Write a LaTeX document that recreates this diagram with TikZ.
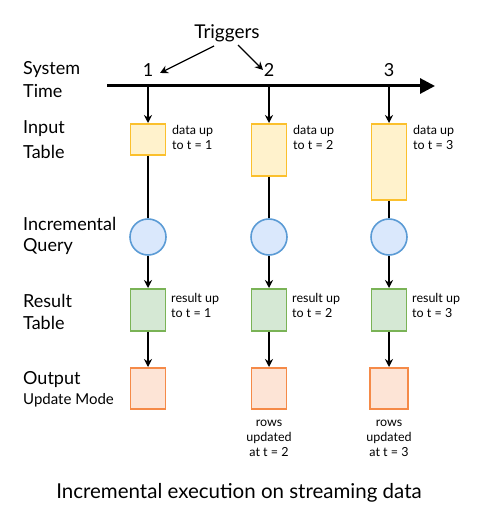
\documentclass[tikz,border=0pt]{standalone}
\usepackage{fontspec}
\setmainfont{Lato}
\usetikzlibrary{arrows.meta}
\definecolor{inF}{HTML}{FFF2CC}\definecolor{inD}{HTML}{FBC02D}
\definecolor{qF}{HTML}{DAE8FC}\definecolor{qD}{HTML}{5B9BD5}
\definecolor{rF}{HTML}{D5E8D4}\definecolor{rD}{HTML}{7AB356}
\definecolor{oF}{HTML}{FDE4D6}\definecolor{oD}{HTML}{F58A48}
\begin{document}
\begin{tikzpicture}[x=1pt,y=-1pt,
  big/.style={font=\fontsize{18}{21}\selectfont,anchor=west,inner sep=0pt},
  small/.style={font=\fontsize{12.5}{15}\selectfont,align=left,anchor=west,inner sep=0pt},
  inbox/.style={draw=inD,fill=inF,line width=1.6pt},
  qc/.style={draw=qD,fill=qF,line width=1.6pt,circle,minimum size=36pt,inner sep=0pt},
  resbox/.style={draw=rD,fill=rF,line width=1.6pt},
  outbox/.style={draw=oD,fill=oF,line width=1.6pt},
  conn/.style={line width=1.3pt},
  arr/.style={line width=1.3pt,-{Stealth[length=8pt,width=8pt]}}]
\useasboundingbox (0,0) rectangle (482,526);
% axis
\coordinate (a0) at (107,86);
\coordinate (a1) at (435,86);
\draw[line width=3pt,-{Triangle[length=15pt,width=15pt]}] (a0) -- (a1);
\node[font=\fontsize{19}{22}\selectfont] (trig) at (227,33) {Triggers};
\node[font=\fontsize{18}{21}\selectfont] (t1) at (148,70) {1};
\node[font=\fontsize{18}{21}\selectfont] (t2) at (269,70) {2};
\node[font=\fontsize{18}{21}\selectfont] (t3) at (389,70) {3};
\coordinate (tr1) at (214,46); \coordinate (tr2) at (238,45);
\coordinate (e1) at (160,73); \coordinate (e2) at (263,70);
\draw[arr] (tr1) -- (e1);
\draw[arr] (tr2) -- (e2);
% left labels
\node[big] (lsys) at (23,70) {System};
\node[big] (ltime) at (23,91) {Time};
\node[big] (lin) at (23,129) {Input};
\node[big] (lint) at (23,152) {Table};
\node[big] (linc) at (23,224) {Incremental};
\node[big] (lq) at (23,247) {Query};
\node[big] (lres) at (23,301) {Result};
\node[big] (lrest) at (23,323) {Table};
\node[big] (lout) at (23,380) {Output};
\node[big,font=\fontsize{15}{18}\selectfont] (lupd) at (23,400) {Update Mode};
% columns
\foreach \i/\x/\ib/\ow in {1/148/154/17.5, 2/269/175/17.5, 3/389/199/19}{
  \coordinate (ax\i) at (\x,86);
  \node[inbox,minimum width=35pt,minimum height={\ib-123},inner sep=0pt,anchor=north] (in\i) at (\x,123) {};
  \node[qc] (q\i) at (\x,237) {};
  \node[resbox,minimum width=35pt,minimum height=42pt,inner sep=0pt,anchor=north] (res\i) at (\x,288) {};
  \node[outbox,minimum width={2*\ow},minimum height=41pt,inner sep=0pt,anchor=north] (out\i) at (\x,367) {};
  \draw[arr] (ax\i) -- (in\i.north);
  \draw[conn] (in\i.south) -- (q\i.north);
  \draw[arr] (q\i.south) -- (res\i.north);
  \draw[arr] (res\i.south) -- (out\i.north);
  \node[small] (din\i) at (\x+24,137.5) {data up\\to t = \i};
  \node[small] (dres\i) at (\x+23,305.5) {result up\\to t = \i};
}
\node[font=\fontsize{12.5}{15}\selectfont,align=center] (rows2) at (269,438) {rows\\updated\\at t = 2};
\node[font=\fontsize{12.5}{15}\selectfont,align=center] (rows3) at (389,438) {rows\\updated\\at t = 3};
\node[font=\fontsize{20.5}{24}\selectfont] (cap) at (239,493) {Incremental execution on streaming data};
\end{tikzpicture}
\end{document}
